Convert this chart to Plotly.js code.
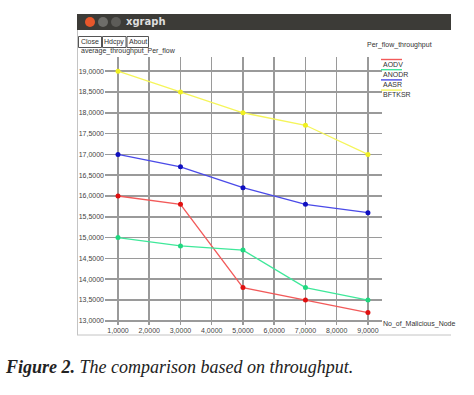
<!DOCTYPE html>
<html>
<head>
<meta charset="utf-8">
<script src="https://cdn.plot.ly/plotly-3.0.1.min.js"></script>
<style>
html,body{margin:0;padding:0;background:#fff;}
#chart{width:474px;height:395px;}
</style>
</head>
<body>
<div id="chart"></div>
<script>
// ---- data ----
var xValues = [1, 3, 5, 7, 9];
var seriesNames = ["AODV", "ANODR", "AASR", "BFTKSR"];
var aodv   = [16.0, 15.8, 13.8, 13.5, 13.2];
var anodr  = [15.0, 14.8, 14.7, 13.8, 13.5];
var aasr   = [17.0, 16.7, 16.2, 15.8, 15.6];
var bftksr = [19.0, 18.5, 18.0, 17.7, 17.0];
var xTicks = [1, 2, 3, 4, 5, 6, 7, 8, 9];
var yTicks = [13, 13.5, 14, 14.5, 15, 15.5, 16, 16.5, 17, 17.5, 18, 18.5, 19];
var chartTitle = "Per_flow_throughput";
var yLabel = "average_throughput_Per_flow";
var xLabel = "No_of_Malicious_Node";
var caption = "<b><i>Figure 2.</i></b><i> The comparison based on throughput.</i>";

var seriesValues = [aodv, anodr, aasr, bftksr];
var lineColors = ["#f25a5a", "#3fe89a", "#4a4ae8", "#f5f55a"];
var markerColors = ["#e01010", "#20d880", "#1010c0", "#f0f020"];

// ---- geometry helpers (pixel -> paper) ----
var L = 105, R = 92, T = 57, B = 70, W = 474, H = 395;
var pw = W - L - R, ph = H - T - B;
function px(x) { return (x - L) / pw; }
function py(y) { return (H - B - y) / ph; }

var traces = seriesNames.map(function (name, i) {
  return {
    x: xValues, y: seriesValues[i], name: name, type: "scatter", mode: "lines+markers",
    line: {color: lineColors[i], width: 1.3},
    marker: {color: markerColors[i], size: 5, symbol: "circle"},
    showlegend: false, cliponaxis: false
  };
});

var tickFont = {family: "Liberation Sans, Arial, sans-serif", size: 7, color: "#444"};
var smallFont = {family: "Liberation Sans, Arial, sans-serif", size: 7, color: "#333"};

var shapes = [
  // window title bar
  {type: "rect", xref: "paper", yref: "paper", x0: px(77), x1: px(451), y0: py(30), y1: py(14),
   fillcolor: "#3c3b37", line: {width: 0}, layer: "below"},
  {type: "circle", xref: "paper", yref: "paper", x0: px(85), x1: px(95), y0: py(27), y1: py(17),
   fillcolor: "#e8572b", line: {width: 0}},
  {type: "circle", xref: "paper", yref: "paper", x0: px(98), x1: px(108), y0: py(27), y1: py(17),
   fillcolor: "#6e6d69", line: {width: 0}},
  {type: "circle", xref: "paper", yref: "paper", x0: px(111), x1: px(121), y0: py(27), y1: py(17),
   fillcolor: "#5d5c58", line: {width: 0}},
  // window frame
  {type: "line", xref: "paper", yref: "paper", x0: px(77.5), x1: px(77.5), y0: py(30), y1: py(335),
   line: {color: "#c4c4c4", width: 1}},
  {type: "line", xref: "paper", yref: "paper", x0: px(77), x1: px(451), y0: py(335), y1: py(335),
   line: {color: "#c4c4c4", width: 1}},
  // buttons
  {type: "rect", xref: "paper", yref: "paper", x0: px(78.5), x1: px(101.5), y0: py(47.5), y1: py(36.5),
   line: {color: "#555", width: 1}},
  {type: "rect", xref: "paper", yref: "paper", x0: px(102.5), x1: px(126), y0: py(47.5), y1: py(36.5),
   line: {color: "#555", width: 1}},
  {type: "rect", xref: "paper", yref: "paper", x0: px(127), x1: px(148.5), y0: py(47.5), y1: py(36.5),
   line: {color: "#555", width: 1}}
];

var annotations = [
  {text: "xgraph", xref: "paper", yref: "paper", x: px(124), y: py(22), xanchor: "left", yanchor: "middle",
   showarrow: false, font: {family: "DejaVu Sans, sans-serif", size: 10, color: "#dedede", weight: "bold"}},
  {text: "Close", xref: "paper", yref: "paper", x: px(90), y: py(42), xanchor: "center", yanchor: "middle",
   showarrow: false, font: smallFont},
  {text: "Hdcpy", xref: "paper", yref: "paper", x: px(114.2), y: py(42), xanchor: "center", yanchor: "middle",
   showarrow: false, font: smallFont},
  {text: "About", xref: "paper", yref: "paper", x: px(137.7), y: py(42), xanchor: "center", yanchor: "middle",
   showarrow: false, font: smallFont},
  {text: yLabel, xref: "paper", yref: "paper", x: px(79), y: py(51), xanchor: "left", yanchor: "middle",
   showarrow: false, font: smallFont},
  {text: chartTitle, xref: "paper", yref: "paper", x: px(365), y: py(45), xanchor: "left", yanchor: "middle",
   showarrow: false, font: smallFont},
  {text: xLabel, xref: "paper", yref: "paper", x: px(381), y: py(324), xanchor: "left", yanchor: "middle",
   showarrow: false, font: smallFont},
  {text: caption, xref: "paper", yref: "paper", x: px(3), y: py(367), xanchor: "left", yanchor: "middle",
   showarrow: false, font: {family: "Liberation Serif, Times New Roman, serif", size: 18, color: "#222"}}
];

// legend entries (xgraph style: coloured line above label)
seriesNames.forEach(function (name, i) {
  var lineY = 59.5 + i * 10.2;
  shapes.push({type: "line", xref: "paper", yref: "paper", x0: px(381), x1: px(402), y0: py(lineY), y1: py(lineY),
    line: {color: lineColors[i], width: 1.4}});
  annotations.push({text: name, xref: "paper", yref: "paper", x: px(381), y: py(lineY + 4.5),
    xanchor: "left", yanchor: "middle", showarrow: false, font: smallFont});
});

var layout = {
  width: W, height: H,
  margin: {l: L, r: R, t: T, b: B, pad: 0},
  paper_bgcolor: "#ffffff", plot_bgcolor: "#ffffff",
  separators: ",.",
  showlegend: false,
  xaxis: {
    range: [0.584, 9.45], tickvals: xTicks, tickformat: ".4f",
    showgrid: true, gridcolor: "#9a9a9a", gridwidth: 1.5,
    zeroline: false, showline: false, ticks: "", tickfont: tickFont, fixedrange: true
  },
  yaxis: {
    range: [12.9, 19.34], tickvals: yTicks, tickformat: ".4f",
    showgrid: true, gridcolor: "#9a9a9a", gridwidth: 1.5,
    zeroline: false, showline: false, ticks: "", tickfont: tickFont, fixedrange: true
  },
  shapes: shapes,
  annotations: annotations
};

Plotly.newPlot("chart", traces, layout, {displayModeBar: false, staticPlot: true});
</script>
</body>
</html>
